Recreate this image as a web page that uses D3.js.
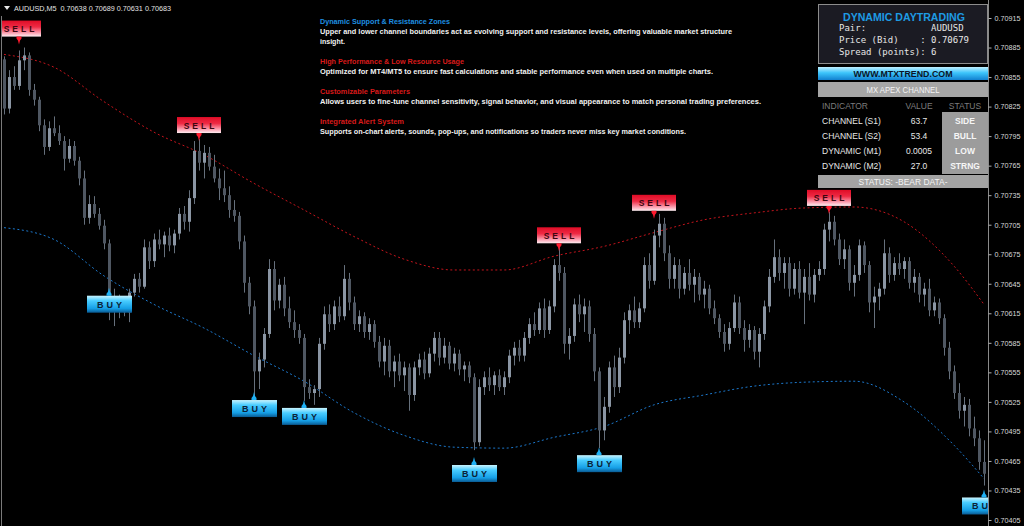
<!DOCTYPE html>
<html><head><meta charset="utf-8">
<script src="https://cdn.jsdelivr.net/npm/d3@7"></script>
<style>html,body{margin:0;padding:0;background:#000;overflow:hidden}</style>
</head><body>
<svg id="c" width="1024" height="526"></svg>
<script>
// ---- DATA (prices in points above 0.70000, i.e. price = 0.70000 + p/100000) ----
const opens=[873,823,855,846,872,877,842,832,806,784,803,798,790,772,785,770,752,712,726,716,704,686,626,618,625,616,636,650,642,682,668,690,685,694,684,696,716,708,732,780,768,778,764,752,742,735,720,714,688,646,622,556,568,594,660,628,644,620,606,598,590,540,534,538,584,614,604,622,612,650,626,604,612,596,604,586,566,582,556,566,552,560,532,560,568,554,574,590,570,582,564,574,558,562,550,484,540,550,542,552,540,550,572,580,572,590,604,598,620,598,622,664,656,584,592,624,614,622,594,556,496,520,560,540,570,608,618,606,620,664,648,694,706,676,650,664,640,656,644,652,634,640,620,610,596,584,600,626,600,588,598,576,594,622,652,672,656,666,640,660,636,652,634,654,660,700,708,690,670,680,646,654,684,664,626,632,640,676,654,666,660,668,646,652,634,640,618,626,610,580,556,534,516,522,498,488,464];
const highs=[876,862,866,882,885,880,848,835,812,810,815,806,795,792,790,774,760,735,734,722,710,690,640,634,632,640,655,656,690,688,696,700,698,702,700,722,724,740,790,792,786,784,776,762,760,744,730,718,694,652,628,575,600,670,668,650,652,632,618,604,594,548,542,590,622,624,628,632,664,656,632,618,616,610,608,592,590,588,572,574,566,564,566,574,576,580,596,596,590,586,580,578,566,566,554,548,556,560,556,558,556,578,586,588,596,610,616,626,630,628,670,682,662,600,630,634,630,628,600,560,530,566,572,580,616,624,632,626,672,676,700,716,712,684,672,670,662,670,660,656,648,644,628,614,604,606,634,632,608,604,602,600,628,660,690,680,672,672,666,668,660,666,660,668,706,718,714,696,690,684,664,690,688,668,642,646,690,682,672,676,672,672,660,656,646,650,632,630,614,586,562,544,530,528,510,496,486];
const lows=[817,818,842,842,862,836,826,800,776,780,795,786,760,768,765,745,705,706,712,700,680,608,602,610,612,606,632,636,640,660,662,680,672,678,676,690,700,698,726,760,752,760,748,730,728,712,708,680,636,614,530,538,560,590,618,620,612,600,590,584,526,528,522,530,578,596,598,606,608,618,598,596,590,588,580,560,552,550,540,546,536,516,526,552,548,550,566,562,564,558,556,552,546,544,476,480,532,536,532,536,532,544,562,566,566,584,592,594,590,594,616,648,574,568,586,606,596,586,546,478,486,514,530,534,564,594,600,600,616,640,644,682,668,640,640,630,634,638,626,628,620,614,604,590,576,578,596,594,576,580,568,560,588,616,646,648,640,632,634,630,604,628,626,648,654,688,684,664,660,638,632,648,656,616,600,618,634,646,648,654,650,640,636,626,622,612,612,604,572,548,528,508,500,490,480,456,440];
const closes=[823,855,846,872,877,842,832,806,784,803,798,790,772,785,770,752,712,726,716,704,686,626,618,625,616,636,650,642,682,668,690,685,694,684,696,716,708,732,780,768,778,764,752,742,735,720,714,688,646,622,556,568,594,660,628,644,620,606,598,590,540,534,538,584,614,604,622,612,650,626,604,612,596,604,586,566,582,556,566,552,560,532,560,568,554,574,590,570,582,564,574,558,562,550,484,540,550,542,552,540,550,572,580,572,590,604,598,620,598,622,664,656,584,592,624,614,622,594,556,496,520,560,540,570,608,618,606,620,664,648,694,706,676,650,664,640,656,644,652,634,640,620,610,596,584,600,626,600,588,598,576,594,622,652,672,656,666,640,660,636,652,634,654,660,700,708,690,670,680,646,654,684,664,626,632,640,676,654,666,660,668,646,652,634,640,618,626,610,580,556,534,516,522,498,488,464,452];
const chanIdx=[0,10,20,30,40,50,60,70,80,90,100,110,120,130,140,150,160,170,180,190,196];
const chanUpper=[878,865,830,799,776,747,720,693,670,659,659,673,683,697,710,717,722,723,708,663,624];
const chanLower=[702,690,653,624,600,572,546,514,491,479,478,489,500,522,532,541,545,546,525,481,447];
const sellIdx=[3,39,111,130,165];
const sellTip=[888,790,678,711,716];
const buyIdx=[21,50,60,94,119,196];
const buyTip=[641,535,527,469,479,436];
const priceTicks=[405,435,465,495,525,555,585,615,645,675,705,735,765,795,825,855,885,915];
const headerText="AUDUSD,M5  0.70638 0.70689 0.70631 0.70683";
const infoLines=["Pair:            AUDUSD","Price (Bid)    : 0.70679","Spread (points): 6"];
const tableInd=["CHANNEL (S1)","CHANNEL (S2)","DYNAMIC (M1)","DYNAMIC (M2)"];
const tableVal=["63.7","53.4","0.0005","27.0"];
const tableStat=["SIDE","BULL","LOW","STRNG"];
const notes=[
 {h:"Dynamic Support & Resistance Zones",c:"#1f8fe0",hw:130,lines:[["Upper and lower channel boundaries act as evolving support and resistance levels, offering valuable market structure",412],["insight.",25]]},
 {h:"High Performance & Low Resource Usage",c:"#d81a1a",hw:144,lines:[["Optimized for MT4/MT5 to ensure fast calculations and stable performance even when used on multiple charts.",393]]},
 {h:"Customizable Parameters",c:"#d81a1a",hw:90,lines:[["Allows users to fine-tune channel sensitivity, signal behavior, and visual appearance to match personal trading preferences.",441]]},
 {h:"Integrated Alert System",c:"#d81a1a",hw:84,lines:[["Supports on-chart alerts, sounds, pop-ups, and notifications so traders never miss key market conditions.",366]]}
];

// ---- DRAW ----
const svg=d3.select('#c');
svg.append('rect').attr('width',1024).attr('height',526).attr('fill','#000');
const defs=svg.append('defs');
defs.append('clipPath').attr('id','plotClip').append('rect').attr('x',2).attr('y',0).attr('width',986).attr('height',526);
const sg=defs.append('linearGradient').attr('id','sellGrad').attr('x1',0).attr('y1',0).attr('x2',0).attr('y2',1);
[[0,'#e00c26'],[0.4,'#ee2a44'],[0.75,'#fb9aac'],[1,'#ffeef2']].forEach(s=>sg.append('stop').attr('offset',s[0]).attr('stop-color',s[1]));
const bg=defs.append('linearGradient').attr('id','buyGrad').attr('x1',0).attr('y1',0).attr('x2',0).attr('y2',1);
[[0,'#c8f4ff'],[0.3,'#48ccff'],[0.75,'#159fe6'],[1,'#0a5a92']].forEach(s=>bg.append('stop').attr('offset',s[0]).attr('stop-color',s[1]));
const wg=defs.append('linearGradient').attr('id','webGrad').attr('x1',0).attr('y1',0).attr('x2',0).attr('y2',1);
[[0,'#c0f0ff'],[0.45,'#3cc4fb'],[1,'#1280d0']].forEach(s=>wg.append('stop').attr('offset',s[0]).attr('stop-color',s[1]));

const N=closes.length;
const x=d3.scaleBand().domain(d3.range(N)).range([1.5,986.5]).paddingInner(0.4).paddingOuter(0.2);
const y=d3.scaleLinear().domain([405,915]).range([520,18]);
const cx=i=>x(i)+x.bandwidth()/2;

// frame lines
svg.append('line').attr('x1',1.5).attr('x2',1.5).attr('y1',16).attr('y2',526).attr('stroke','#7a7a7a');
svg.append('line').attr('x1',988.5).attr('x2',988.5).attr('y1',0).attr('y2',526).attr('stroke','#8a8a8a');

// axis
const axis=d3.axisRight(y).tickValues(priceTicks).tickSize(3).tickPadding(3).tickFormat(d=>(0.7+d/1e5).toFixed(5));
const ag=svg.append('g').attr('transform','translate(988.5,0)').call(axis);
ag.select('.domain').remove();
ag.selectAll('line').attr('stroke','#b0b0b0');
ag.selectAll('text').attr('fill','#d8d8d8').attr('font-family','Liberation Sans, Arial, sans-serif').attr('font-size',7.2);

const plot=svg.append('g').attr('clip-path','url(#plotClip)');

// channel lines
const ln=d3.line().x(d=>cx(d[0])).y(d=>y(d[1])).curve(d3.curveMonotoneX);
plot.append('path').datum(chanIdx.map((k,j)=>[k,chanUpper[j]])).attr('d',ln).attr('fill','none').attr('stroke','#c4141c').attr('stroke-width',1).attr('stroke-dasharray','2,2.5');
plot.append('path').datum(chanIdx.map((k,j)=>[k,chanLower[j]])).attr('d',ln).attr('fill','none').attr('stroke','#1c78cc').attr('stroke-width',1).attr('stroke-dasharray','2,2.5');

// candles
const candles=d3.range(N).map(i=>({i,o:opens[i],h:highs[i],l:lows[i],c:closes[i]}));
const cg=plot.append('g');
cg.selectAll('line').data(candles).join('line')
  .attr('x1',d=>Math.round(x(d.i))+1.5).attr('x2',d=>Math.round(x(d.i))+1.5)
  .attr('y1',d=>y(d.h)).attr('y2',d=>y(d.l)).attr('stroke','#66707c').attr('stroke-width',1);
cg.selectAll('rect').data(candles).join('rect')
  .attr('x',d=>Math.round(x(d.i))).attr('width',3)
  .attr('y',d=>y(Math.max(d.o,d.c))).attr('height',d=>Math.max(1,Math.abs(y(d.o)-y(d.c))))
  .attr('fill',d=>d.c>=d.o?'#8b96a4':'#4f5762');

// signals
sellIdx.forEach((k,j)=>{
  const px=cx(k), tip=y(sellTip[j]), bb=tip-8;
  const g=plot.append('g');
  g.append('rect').attr('x',px-22).attr('y',bb-16).attr('width',44).attr('height',16).attr('fill','url(#sellGrad)');
  g.append('path').attr('d',`M${px-2.5},${bb}L${px+2.5},${bb}L${px+2.5},${bb+2}L${px+1},${bb+4}L${px},${tip}L${px-1},${bb+4}L${px-2.5},${bb+2}Z`).attr('fill','#ff1a2e');
  g.append('text').attr('x',px+1.5).attr('y',bb-4.5).attr('text-anchor','middle')
    .attr('font-family','Liberation Sans, Arial, sans-serif').attr('font-size',8.5).attr('font-weight','bold')
    .attr('letter-spacing',3).attr('fill','#3a0610').text('SELL');
});
buyIdx.forEach((k,j)=>{
  const px=cx(k), tip=y(buyTip[j]), bt=tip+8;
  const g=plot.append('g');
  g.append('rect').attr('x',px-22).attr('y',bt).attr('width',45).attr('height',17).attr('fill','url(#buyGrad)');
  g.append('path').attr('d',`M${px-2.5},${bt}L${px+2.5},${bt}L${px+2.5},${bt-2}L${px+1},${bt-4}L${px},${tip}L${px-1},${bt-4}L${px-2.5},${bt-2}Z`).attr('fill','#1eb0f4');
  g.append('text').attr('x',px+2).attr('y',bt+12).attr('text-anchor','middle')
    .attr('font-family','Liberation Sans, Arial, sans-serif').attr('font-size',9).attr('font-weight','bold')
    .attr('letter-spacing',3).attr('fill','#0a2238').text('BUY');
});

// header
svg.append('path').attr('d','M4,6L10,6L7,10Z').attr('fill','#e8e8e8');
svg.append('text').attr('x',14).attr('y',11).attr('font-family','Liberation Sans, Arial, sans-serif').attr('font-size',7.6)
  .attr('fill','#e4e4e4').style('white-space','pre').attr('textLength',157).attr('lengthAdjust','spacingAndGlyphs').text(headerText);

// notes block
let ny=23.5;
notes.forEach((n,k)=>{
  svg.append('text').attr('x',320).attr('y',ny).attr('font-family','Liberation Sans, Arial, sans-serif').attr('font-size',8).attr('font-weight','bold')
    .attr('fill',n.c).attr('textLength',n.hw).attr('lengthAdjust','spacingAndGlyphs').text(n.h);
  n.lines.forEach((l,m)=>{
    svg.append('text').attr('x',320).attr('y',ny+10+10*m).attr('font-family','Liberation Sans, Arial, sans-serif').attr('font-size',8).attr('font-weight','bold')
      .attr('fill','#f2f2f2').attr('textLength',l[1]).attr('lengthAdjust','spacingAndGlyphs').text(l[0]);
  });
  ny+=10+10*n.lines.length+10;
});

// right info panel
const P=svg.append('g');
P.append('rect').attr('x',818.5).attr('y',4.5).attr('width',169).attr('height',59).attr('fill','#1b1b23').attr('stroke','#8c8c8c');
P.append('text').attr('x',904).attr('y',21).attr('text-anchor','middle').attr('font-family','Liberation Sans, Arial, sans-serif')
  .attr('font-size',11).attr('font-weight','bold').attr('fill','#1e9be4').attr('textLength',122).attr('lengthAdjust','spacingAndGlyphs').text('DYNAMIC DAYTRADING');
infoLines.forEach((t,k)=>{
  P.append('text').attr('x',839).attr('y',31+12*k).attr('font-family','DejaVu Sans Mono, monospace').attr('font-size',9)
    .attr('fill','#e6e6e6').style('white-space','pre').text(t);
});
P.append('rect').attr('x',818).attr('y',67).attr('width',170).attr('height',13).attr('fill','url(#webGrad)');
P.append('text').attr('x',903).attr('y',76.5).attr('text-anchor','middle').attr('font-family','Liberation Sans, Arial, sans-serif')
  .attr('font-size',9).attr('font-weight','bold').attr('fill','#0c1426').attr('textLength',99).attr('lengthAdjust','spacingAndGlyphs').text('WWW.MTXTREND.COM');
P.append('rect').attr('x',818).attr('y',82).attr('width',170).attr('height',15).attr('fill','#a6a6a6');
P.append('text').attr('x',903).attr('y',92.5).attr('text-anchor','middle').attr('font-family','Liberation Sans, Arial, sans-serif')
  .attr('font-size',8.5).attr('fill','#f4f4f4').attr('textLength',73).attr('lengthAdjust','spacingAndGlyphs').text('MX APEX CHANNEL');
const hdrs=[['INDICATOR',822,'start'],['VALUE',919,'middle'],['STATUS',965,'middle']];
hdrs.forEach(h=>P.append('text').attr('x',h[1]).attr('y',108.5).attr('text-anchor',h[2]).attr('font-family','Liberation Sans, Arial, sans-serif')
  .attr('font-size',8.5).attr('fill','#7c7c7c').text(h[0]));
P.append('rect').attr('x',942).attr('y',112).attr('width',46).attr('height',62).attr('fill','#9c9c9c');
tableInd.forEach((t,k)=>{
  const by=123.5+15.3*k;
  P.append('text').attr('x',822).attr('y',by).attr('font-family','Liberation Sans, Arial, sans-serif').attr('font-size',8.5).attr('fill','#e8e8e8').text(t);
  P.append('text').attr('x',919).attr('y',by).attr('text-anchor','middle').attr('font-family','Liberation Sans, Arial, sans-serif').attr('font-size',8.5).attr('fill','#e8e8e8').text(tableVal[k]);
  P.append('text').attr('x',965).attr('y',by).attr('text-anchor','middle').attr('font-family','Liberation Sans, Arial, sans-serif').attr('font-size',8.5).attr('font-weight','bold').attr('fill','#f6f6f6').text(tableStat[k]);
});
P.append('rect').attr('x',818).attr('y',175).attr('width',170).attr('height',13).attr('fill','#a3a3a3');
P.append('text').attr('x',903).attr('y',184.5).attr('text-anchor','middle').attr('font-family','Liberation Sans, Arial, sans-serif')
  .attr('font-size',8.5).attr('fill','#f4f4f4').attr('textLength',89).attr('lengthAdjust','spacingAndGlyphs').text('STATUS: -BEAR DATA-');
</script>
</body></html>
